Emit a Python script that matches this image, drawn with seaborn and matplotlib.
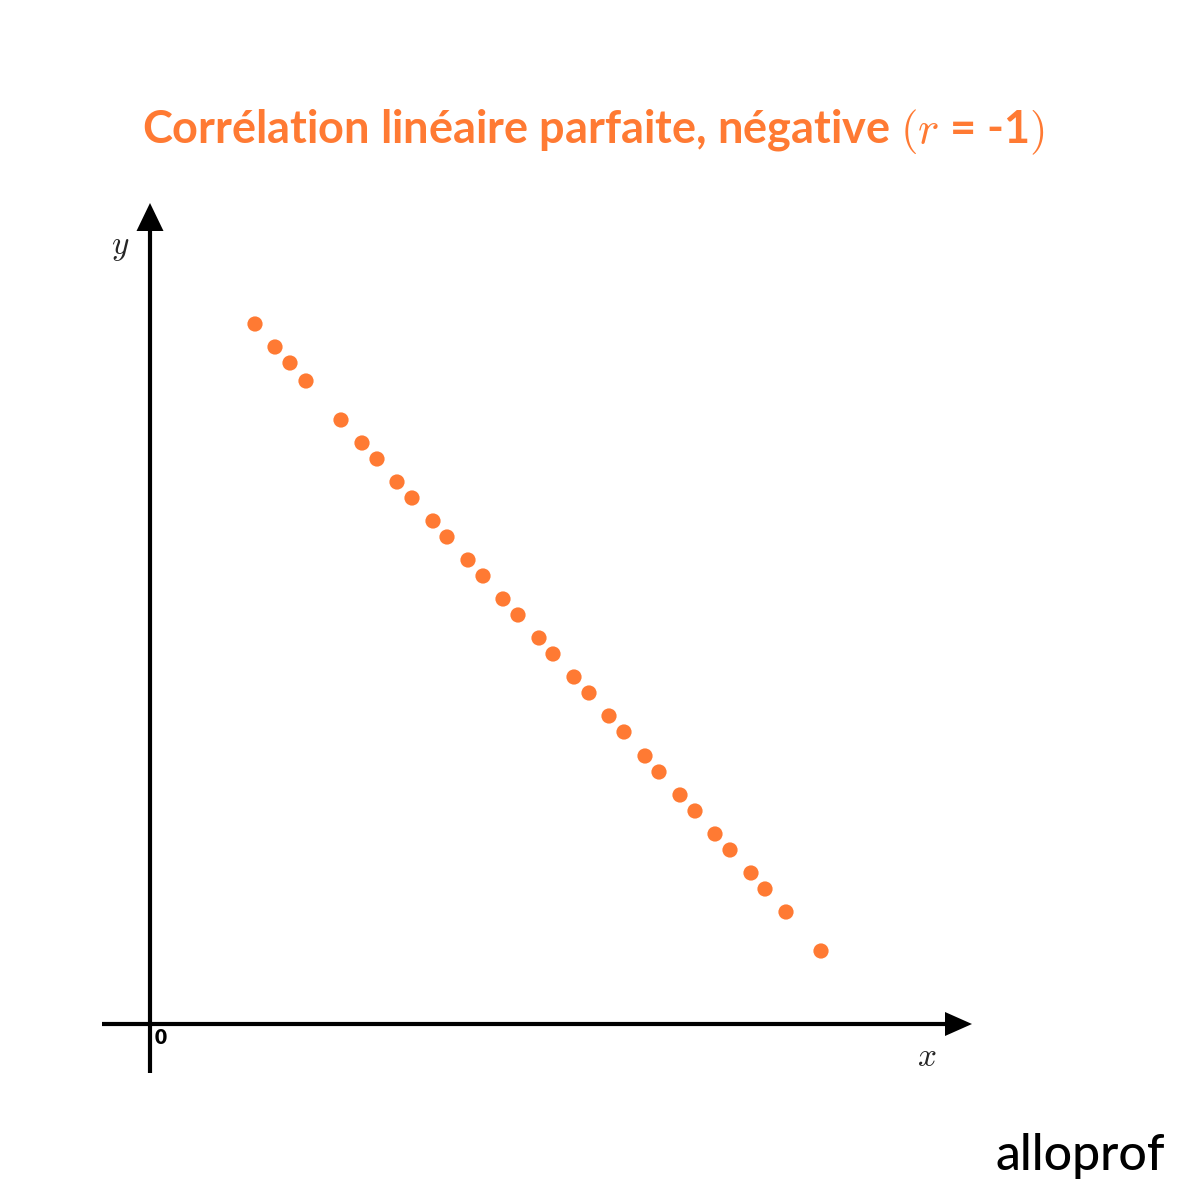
import matplotlib
matplotlib.use("Agg")
import matplotlib.pyplot as plt
import seaborn as sns
import pandas as pd

# points (arbitrary units, origin at axis crossing)
x_vals = [10.5, 12.5, 14.0, 15.6, 19.1, 21.2, 22.7, 24.7, 26.2, 28.3, 29.7,
          31.8, 33.3, 35.3, 36.8, 38.9, 40.3, 42.4, 43.9, 45.9, 47.4, 49.5,
          50.9, 53.0, 54.5, 56.5, 58.0, 60.1, 61.5, 63.6, 67.1]
y_vals = [70.0, 67.7, 66.1, 64.3, 60.4, 58.1, 56.5, 54.2, 52.6, 50.3, 48.7,
          46.4, 44.8, 42.5, 40.9, 38.6, 37.0, 34.7, 33.1, 30.8, 29.2, 26.8,
          25.2, 22.9, 21.3, 19.0, 17.4, 15.1, 13.5, 11.2, 7.3]

title = "Corrélation linéaire parfaite, négative $(r$ = -1$)$"
orange = "#FF7A33"

df = pd.DataFrame({"x": x_vals, "y": y_vals})

sns.set_style("white")
plt.rcParams["font.family"] = ["Lato", "DejaVu Sans"]
plt.rcParams["mathtext.fontset"] = "cm"

fig = plt.figure(figsize=(12, 12.02), dpi=100)
ax = fig.add_axes([0, 0, 1, 1])
ax.set_xlim(-15, 105)
ax.set_ylim(-17.8, 102.4)
ax.axis("off")

# axes with arrows
ax.plot([-4.8, 80], [0, 0], color="black", lw=3, solid_capstyle="butt")
ax.plot([0, 0], [-4.9, 80], color="black", lw=3, solid_capstyle="butt")
ax.fill([79.5, 82.2, 79.5], [1.2, 0, -1.2], color="black", lw=0)
ax.fill([-1.35, 0, 1.35], [79.3, 82.1, 79.3], color="black", lw=0)

sns.scatterplot(data=df, x="x", y="y", color=orange, s=120,
                edgecolor="none", ax=ax)
ax.set_xlabel("")
ax.set_ylabel("")

ax.text(-3.0, 77.6, "$y$", fontsize=24, ha="center", va="center")
ax.text(77.7, -3.3, "$x$", fontsize=24, ha="center", va="center")
ax.text(1.1, -1.4, "0", fontsize=15, fontweight="heavy", color="black",
        ha="center", va="center")

fig.text(0.494, 0.89, title, color=orange, fontsize=32.5, fontweight="bold",
         ha="center", va="center")
fig.text(0.971, 0.038, "alloprof", color="black", fontsize=36,
         fontweight="medium", ha="right", va="center")

fig.savefig("out.png", dpi=100, facecolor="white")
